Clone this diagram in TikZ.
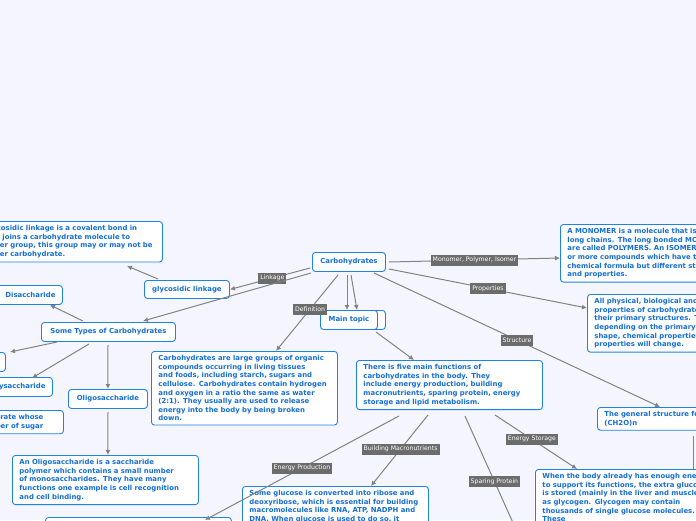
\documentclass[tikz,border=0pt]{standalone}
\usepackage{fontspec}
\setmainfont{DejaVu Sans}
\usetikzlibrary{arrows.meta}
\begin{document}
\begin{tikzpicture}[x=1pt,y=-1pt,
  every node/.style={font=\bfseries\fontsize{6.9}{8.6}\selectfont},
  topic/.style={draw={rgb,255:red,30;green,130;blue,230}, line width=0.9pt, fill=white, rounded corners=3pt, text={rgb,255:red,20;green,110;blue,215}, inner xsep=7pt, inner ysep=4pt, align=left, anchor=north west},
  tbox/.style={topic, text width=#1, execute at begin node={\hyphenpenalty=10000\exhyphenpenalty=10000}},
  lbl/.style={fill=gray!85!black, text=white, font=\fontsize{6.2}{7}\selectfont, inner sep=2pt, minimum height=11pt},
  con/.style={draw=gray!85!black!85, line width=1pt},
  arr/.style={con, -{Latex[length=5pt,width=5pt]}}]
\useasboundingbox (0,0) rectangle (696,520);
\clip (0,0) rectangle (696,520);
\fill[blue!4] (0,0) rectangle (696,520);
% nodes
\node[topic, minimum width=73pt, minimum height=19pt, align=center] (carb) at (312,252) {Carbohydrates};
\node[topic, minimum width=85pt, minimum height=18pt, align=center] (gly) at (144,280) {glycosidic linkage};
\node[tbox=178pt] (glyt) at (-30,221) {A glycosidic linkage is a covalent bond in which joins a carbohydrate molecule to another group, this group may or may not be another carbohydrate.};
\node[topic, minimum height=19pt, align=right, text width=60pt] (di) at (-12,285) {Disaccharide};
\node[topic, minimum width=134pt, minimum height=19pt, align=center] (types) at (41,322) {Some Types of Carbohydrates};
\node[topic, minimum height=19pt, text width=62pt, align=right] (mono) at (-71,352) {Monosaccharide};
\node[topic, minimum height=19pt, text width=70pt, align=right] (poly) at (-32,377) {Polysaccharide};
\node[tbox=100pt] (polyt) at (-51,410) {A carbohydrate whose large number of sugar};
\node[topic, minimum width=79pt, minimum height=19pt, align=center] (oligo) at (68,389) {Oligosaccharide};
\node[tbox=172pt] (oligot) at (12,455) {An Oligosaccharide is a saccharide polymer which contains a small number of monosaccharides. They have many functions one example is cell recognition and cell binding.};
\node[tbox=172pt, minimum height=20pt] (enp) at (45,517) {};
\node[tbox=172pt] (def) at (151,351) {Carbohydrates are large groups of organic compounds occurring in living tissues and foods, including starch, sugars and cellulose. Carbohydrates contain hydrogen and oxygen in a ratio the same as water (2:1). They usually are used to release energy into the body by being broken down.};
\node[topic, minimum width=57pt, minimum height=19pt] (main2) at (328,310) {};
\node[topic, minimum width=57pt, minimum height=19pt, align=center] (main) at (320,310) {Main topic};
\node[tbox=172pt] (fun) at (356,360) {There is five main functions of\\ carbohydrates in the body. They include energy production, building macronutrients, sparing protein, energy storage and lipid metabolism.};
\node[tbox=172pt] (build) at (242,486) {Some glucose is converted into ribose and deoxyribose, which is essential for building macromolecules like RNA, ATP, NADPH and DNA. When glucose is used to do so, it};
\node[tbox=172pt] (store) at (535,469) {When the body already has enough energy to support its functions, the extra glucose is stored (mainly in the liver and muscles) as glycogen. Glycogen may contain thousands of single glucose molecules. These};
\node[tbox=130pt] (gen) at (597,407) {The general structure for\\ (CH2O)n};
\node[tbox=172pt] (mon) at (560,224) {A MONOMER is a molecule that is bonded in long chains. The long bonded MONOMERS are called POLYMERS. An ISOMER is two or more compounds which have the same chemical formula but different structures and properties.};
\node[tbox=172pt] (prop) at (587,294) {All physical, biological and chemical properties of carbohydrates depend on their primary structures. Therefore, depending on the primary structure, size, shape, chemical properties and biological properties will change.};
\coordinate (spar) at (514,525);
\coordinate (genb) at (693,469);
% edges
\draw[arr] (310,268) -- node[lbl,pos=0.47]{Linkage} (gly.east);
\draw[arr] (158,279) -- (127,266);
\draw[arr] (311,273) -- (143,321);
\draw[arr] (83,321) -- (50,305);
\draw[arr] (57,342) -- (10,352);
\draw[arr] (89,344) -- (32,378);
\draw[arr] (108,345) -- (oligo.north);
\draw[arr] (108,412) -- (oligot.north -| oligo.south);
\draw[arr] (338,275) -- node[lbl,pos=0.45]{Definition} (276,351);
\draw[arr] (347,275) -- (347,310);
\draw[arr] (351,275) -- (357,310);
\draw[arr] (376,332) -- (414,360);
\draw[arr] (389,262) -- node[lbl]{Monomer, Polymer, Isomer} (560,258);
\draw[arr] (389,269) -- node[lbl]{Properties} (587,308);
\draw[arr] (374,273) -- node[lbl,pos=0.5]{Structure} (660,407);
\draw[arr] (428,415) -- node[lbl,pos=0.48]{Building Macronutrients} (371,486);
\draw[arr] (399,416) -- node[lbl,pos=0.5]{Energy Production} (205,520);
\draw[con] (465,416) -- node[lbl,pos=0.6]{Sparing Protein} (spar);
\draw[arr] (495,415) -- node[lbl,pos=0.45]{Energy Storage} (577,469);
\draw[con] (693,436) -- (genb);
\end{tikzpicture}
\end{document}
